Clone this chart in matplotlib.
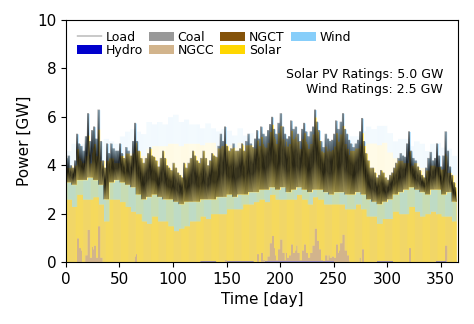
import numpy as np
import matplotlib
matplotlib.use('Agg')
import matplotlib.pyplot as plt


# daily peak load, one value every 2 days [GW]
load_peak = [
    4.3, 4.4, 4.0, 3.9, 4.2, 5.3, 4.9, 4.8, 4.6, 5.2,
    6.15, 5.0, 5.45, 5.6, 5.1, 6.3, 5.0, 4.2, 3.9, 4.9,
    4.5, 4.9, 4.7, 4.6, 4.6, 4.9, 4.5, 4.3, 4.75, 4.6,
    4.4, 5.0, 5.75, 5.0, 4.6, 4.3, 4.1, 4.3, 4.5, 4.75,
    4.4, 4.35, 4.2, 3.95, 4.3, 4.6, 4.3, 4.0, 3.9, 3.8,
    4.1, 3.9, 3.7, 3.6, 3.5, 4.1, 3.9, 4.1, 4.3, 4.6,
    4.4, 4.2, 4.1, 4.3, 4.6, 4.3, 4.0, 4.2, 4.5, 4.4,
    4.35, 4.8, 5.3, 5.0, 5.6, 4.8, 4.6, 4.7, 4.9, 4.6,
    4.6, 4.7, 4.9, 4.6, 5.0, 5.3, 4.9, 4.75, 5.1, 5.45,
    5.1, 5.6, 5.3, 5.2, 5.45, 5.7, 6.0, 5.5, 5.3, 5.75,
    6.15, 5.6, 5.3, 5.1, 5.2, 5.85, 5.5, 5.6, 5.3, 5.0,
    5.5, 5.75, 5.4, 5.2, 5.4, 5.6, 6.3, 5.8, 5.45, 5.0,
    4.75, 5.3, 5.1, 5.0, 5.05, 5.3, 5.85, 5.5, 5.8, 6.15,
    5.5, 5.3, 5.05, 4.9, 4.75, 4.9, 5.05, 5.4, 5.95, 5.0,
    4.5, 4.2, 3.9, 3.9, 3.7, 3.5, 3.6, 3.8, 3.7, 3.5,
    3.4, 3.6, 3.7, 3.9, 4.1, 4.3, 4.5, 4.4, 4.35, 4.9,
    5.4, 4.6, 4.3, 4.2, 3.95, 3.8, 3.6, 3.5, 3.9, 4.3,
    4.55, 4.2, 4.3, 4.9, 4.4, 3.95, 4.4, 5.4, 4.6, 3.95,
    3.6, 3.3, 3.1,
]

# overnight minimum load, one value every 5 days [GW]
load_min = [
    3.3, 3.2, 3.4, 3.4, 3.5, 3.4, 3.2, 2.6, 3.3, 3.4,
    3.3, 3.2, 3.1, 2.8, 2.6, 2.7, 2.8, 2.7, 2.6, 2.6,
    2.5, 2.4, 2.5, 2.5, 2.5, 2.6, 2.6, 2.6, 2.7, 2.7,
    2.8, 2.7, 2.8, 2.8, 2.9, 2.9, 3.0, 3.0, 3.1, 3.0,
    3.1, 2.9, 3.0, 3.1, 3.0, 2.9, 3.0, 3.0, 2.9, 2.8,
    2.9, 2.9, 2.8, 2.8, 2.9, 2.8, 2.6, 2.5, 2.4, 2.5,
    2.6, 2.8, 2.9, 3.0, 3.1, 3.0, 2.9, 2.8, 3.0, 3.0,
    2.8, 2.9, 2.5,
]

# noon solar output, every 5 days [GW]
solar_noon = [
    3.9, 4.0, 3.7, 4.1, 3.9, 4.2,
    4.0, 4.2, 4.3, 4.1, 4.4, 4.5,
    4.5, 4.6, 4.4, 4.7, 4.8, 4.8,
    4.8, 4.9, 4.9, 4.8, 4.9, 4.9,
    4.9, 4.8, 4.9, 4.9, 4.7, 4.8,
    4.8, 4.7, 4.9, 4.8, 4.8, 4.7,
    4.8, 4.7, 4.6, 4.8, 4.7, 4.6,
    4.7, 4.6, 4.6, 4.5, 4.6, 4.5,
    4.5, 4.4, 4.6, 4.5, 4.4, 4.6,
    4.7, 4.8, 4.9, 4.9, 4.8, 4.9,
    4.5, 4.3, 4.2, 4.1, 4.0, 4.1,
    3.9, 3.8, 4.0, 3.9, 3.8, 3.7,
    3.6,
]

# wind output, every 5 days [GW]
wind_gen = [
    0.7, 0.9, 0.6, 0.8, 0.9, 0.7,
    0.8, 0.9, 0.7, 0.8, 0.8, 0.9,
    1.0, 0.8, 0.9, 1.1, 0.9, 1.0,
    0.9, 1.1, 1.2, 1.0, 1.0, 0.8,
    0.8, 0.7, 0.8, 0.6, 0.7, 0.7,
    0.6, 0.5, 0.6, 0.4, 0.5, 0.4,
    0.4, 0.5, 0.3, 0.4, 0.5, 0.3,
    0.4, 0.3, 0.4, 0.5, 0.3, 0.4,
    0.5, 0.4, 0.5, 0.5, 0.6, 0.6,
    0.5, 0.6, 0.7, 0.6, 0.8, 0.7,
    0.8, 0.7, 0.9, 1.0, 0.8, 0.9,
    1.0, 0.8, 0.9, 1.0, 0.9, 1.0,
    0.8,
]

# hydro output, every 5 days [GW]
hydro_gen = [
    0.01, 0.01, 0.01, 0.01, 0.01, 0.01, 0.01, 0.01, 0.01, 0.01,
    0.01, 0.01, 0.01, 0.01, 0.01, 0.01, 0.01, 0.01, 0.01, 0.01,
    0.01, 0.01, 0.01, 0.01, 0.01, 0.05, 0.05, 0.05, 0.02, 0.02,
    0.05, 0.05, 0.05, 0.05, 0.05, 0.02, 0.02, 0.05, 0.05, 0.05,
    0.05, 0.05, 0.05, 0.05, 0.05, 0.05, 0.05, 0.05, 0.05, 0.05,
    0.02, 0.02, 0.02, 0.02, 0.02, 0.02, 0.02, 0.02, 0.05, 0.05,
    0.05, 0.01, 0.01, 0.01, 0.01, 0.01, 0.01, 0.01, 0.01, 0.05,
    0.05, 0.01, 0.01,
]

colors = {
    'Hydro': '#0000cd',
    'Coal': '#999999',
    'NGCC': '#d2b48c',
    'NGCT': '#845209',
    'Solar': '#ffd700',
    'Wind': '#87cefa',
}

# half-day samples: noon (peak) and midnight (minimum)
n = 730
t = np.arange(n) * 0.5
noon = np.arange(n) % 2 == 0

load = np.where(noon, np.repeat(load_peak, 4)[:n], np.repeat(load_min, 10))
solar = np.where(noon, np.repeat(solar_noon, 10), 0.0)
wind = np.repeat(wind_gen, 10)
hydro = np.repeat(hydro_gen, 10)
coal = np.zeros(n)
ngct = np.zeros(n)

# dispatch: renewables first, gas covers the rest, surplus is spilled
solar_used = np.minimum(solar, load - hydro)
wind_used = np.minimum(wind, load - hydro - solar_used)
ngcc = load - hydro - solar_used - wind_used
solar_spill = solar - solar_used
wind_spill = wind - wind_used

fig = plt.figure(figsize=(4.74, 3.24), dpi=100)
ax = fig.add_axes([0.139, 0.191, 0.827, 0.747])

# stacked generation, each sample held for its half day
layers = [hydro, coal, ngcc, ngct, solar_used, wind_used]
polys = []
base = np.zeros(n)
for name, layer in zip(colors, layers):
    p = ax.fill_between(t, base, base + layer, step='post',
                        color=colors[name], linewidth=0, label=name)
    polys.append(p)
    base = base + layer

ax.fill_between(t, load, load + solar_spill, step='post',
                color=colors['Solar'], alpha=0.2, linewidth=0)
ax.fill_between(t, load + solar_spill, load + solar_spill + wind_spill,
                step='post', color=colors['Wind'], alpha=0.2, linewidth=0)
line, = ax.plot(t, load, color='k', lw=0.3, label='Load', zorder=3)

ax.set_xlim(0, 366)
ax.set_ylim(0, 10)
ax.set_yticks([0, 2, 4, 6, 8, 10])
ax.tick_params(labelsize=11)
ax.set_xlabel('Time [day]', fontsize=11)
ax.set_ylabel('Power [GW]', fontsize=11)

ax.legend(handles=[line] + polys, ncol=4, loc='upper left',
          frameon=False, fontsize=9, handlelength=2.0, handletextpad=0.3,
          columnspacing=0.5, labelspacing=0.0, borderaxespad=0.45)

ax.text(0.962, 0.775, 'Solar PV Ratings: 5.0 GW', transform=ax.transAxes,
        ha='right', va='center', fontsize=9)
ax.text(0.962, 0.715, 'Wind Ratings: 2.5 GW', transform=ax.transAxes,
        ha='right', va='center', fontsize=9)

fig.savefig('out.png', dpi=100)
